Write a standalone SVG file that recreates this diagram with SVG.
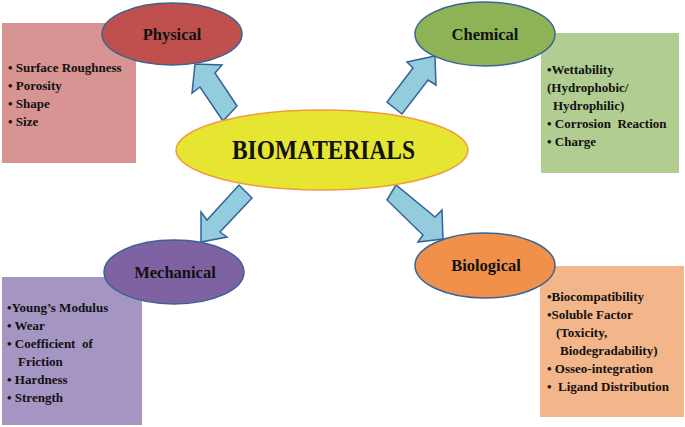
<svg xmlns="http://www.w3.org/2000/svg" width="685" height="427" viewBox="0 0 685 427">
<style>
  text { font-family: 'Liberation Serif', 'Times New Roman', 'DejaVu Serif', serif; font-weight: bold; fill: #111; white-space: pre; }
  .lst { font-size: 13px; }
  .lbl { font-size: 16.5px; text-anchor: middle; }
  .cat { stroke: #3a6494; stroke-width: 1.5; }
  .arrow { fill: #93cddd; stroke: #35629a; stroke-width: 1.5; stroke-linejoin: miter; }
</style>
<rect width="685" height="427" fill="#ffffff"/>

<g id="physical-list" font-family="Liberation Serif">
  <rect x="2" y="23" width="134" height="140" fill="#d79492"/>
  <text class="lst" x="8" y="71.5">• Surface Roughness</text>
  <text class="lst" x="8" y="89.5">• Porosity</text>
  <text class="lst" x="8" y="107.5">• Shape</text>
  <text class="lst" x="8" y="125.5">• Size</text>
</g>
<g id="chemical-list">
  <rect x="541" y="33" width="138" height="140" fill="#b1cd92"/>
  <text class="lst" x="547" y="74">•Wettability</text>
  <text class="lst" x="547" y="92">(Hydrophobic/</text>
  <text class="lst" x="553" y="110">Hydrophilic)</text>
  <text class="lst" x="547" y="128" xml:space="preserve">• Corrosion  Reaction</text>
  <text class="lst" x="547" y="146">• Charge</text>
</g>
<g id="mechanical-list">
  <rect x="2" y="277" width="140" height="148" fill="#a595c2"/>
  <text class="lst" x="7" y="312">•Young’s Modulus</text>
  <text class="lst" x="7" y="330">• Wear</text>
  <text class="lst" x="7" y="348" xml:space="preserve">• Coefficient  of</text>
  <text class="lst" x="18" y="366">Friction</text>
  <text class="lst" x="7" y="384">• Hardness</text>
  <text class="lst" x="7" y="402">• Strength</text>
</g>
<g id="biological-list">
  <rect x="540" y="266" width="144" height="151" fill="#f3b58a"/>
  <text class="lst" x="547" y="301">•Biocompatibility</text>
  <text class="lst" x="547" y="319">•Soluble Factor</text>
  <text class="lst" x="556" y="337">(Toxicity,</text>
  <text class="lst" x="560" y="355">Biodegradability)</text>
  <text class="lst" x="547" y="373">• Osseo-integration</text>
  <text class="lst" x="547" y="391" xml:space="preserve">•  Ligand Distribution</text>
</g>

<g id="connectors">
  <polygon class="arrow" points="195,64 222,65 215,73 237,106 223,121 200,87 192,93"/>
  <polygon class="arrow" points="435,56 436,85 428,80 402,114 387,102 413,68 407,62"/>
  <polygon class="arrow" points="201,242 201,212 207,220 239,185 252,198 220,232 227,237"/>
  <polygon class="arrow" points="443,239 442,210 435,217 396,185 387,200 423,235 418,242"/>
</g>

<g id="biomaterials">
  <ellipse cx="322" cy="150" rx="146" ry="40" fill="#e5e532" stroke="#f29a3c" stroke-width="1.5"/>
  <text x="323.5" y="159" font-size="28" text-anchor="middle" textLength="183" lengthAdjust="spacingAndGlyphs">BIOMATERIALS</text>
</g>
<g id="physical">
  <ellipse class="cat" cx="172" cy="34" rx="70" ry="31" fill="#c0504d"/>
  <text class="lbl" x="172" y="40">Physical</text>
</g>
<g id="chemical">
  <ellipse class="cat" cx="485" cy="34" rx="70" ry="32" fill="#8db356"/>
  <text class="lbl" x="485" y="40">Chemical</text>
</g>
<g id="mechanical">
  <ellipse class="cat" cx="174" cy="272" rx="70" ry="32" fill="#7f62a1"/>
  <text class="lbl" x="175" y="278">Mechanical</text>
</g>
<g id="biological">
  <ellipse class="cat" cx="485" cy="265.5" rx="70" ry="32.5" fill="#f0904a"/>
  <text class="lbl" x="486" y="271">Biological</text>
</g>
</svg>
